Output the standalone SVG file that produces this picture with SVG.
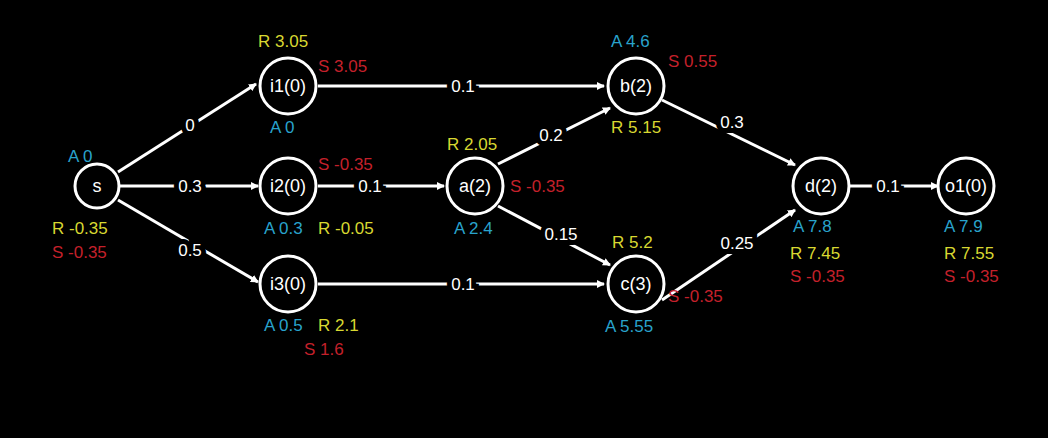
<svg xmlns="http://www.w3.org/2000/svg" width="1048" height="438" viewBox="0 0 1048 438">
<style>
text{font-family:"Liberation Sans",Arial,sans-serif;font-size:17px}
.n{fill:#000;stroke:#fff;stroke-width:3}
.nt{fill:#fff;font-size:18px;text-anchor:middle}
.e{stroke:#fff;stroke-width:3;fill:none;marker-end:url(#ah)}
.el{fill:#fff;text-anchor:middle;stroke:#000;stroke-width:10px;paint-order:stroke}
.A{fill:#29a3cc}.R{fill:#d8d831}.S{fill:#c4202b}
</style>
<defs><marker id="ah" markerWidth="8" markerHeight="8" refX="7" refY="4" orient="auto" markerUnits="userSpaceOnUse"><path d="M0,0L8,4L0,8z" fill="#fff"/></marker></defs>
<rect width="1048" height="438" fill="#000"/>
<g id="connectors">
<path class="e" d="M118,172L256,84"/>
<path class="e" d="M120,186L258,186"/>
<path class="e" d="M118,200L258,282"/>
<path class="e" d="M318,86L604,86"/>
<path class="e" d="M318,186L444,186"/>
<path class="e" d="M498,164L610,108"/>
<path class="e" d="M498,206L610,265"/>
<path class="e" d="M318,284L604,284"/>
<path class="e" d="M662,100L795,165"/>
<path class="e" d="M662,300L795,210"/>
<path class="e" d="M850,186L938,186"/>
<text class="el" x="190" y="131">0</text>
<text class="el" x="190" y="192">0.3</text>
<text class="el" x="190" y="256">0.5</text>
<text class="el" x="463" y="92">0.1</text>
<text class="el" x="370" y="192">0.1</text>
<text class="el" x="551" y="141">0.2</text>
<text class="el" x="561" y="240">0.15</text>
<text class="el" x="463" y="290">0.1</text>
<text class="el" x="732" y="128">0.3</text>
<text class="el" x="737" y="249">0.25</text>
<text class="el" x="888" y="192">0.1</text>
</g>
<g id="s"><circle class="n" cx="97" cy="186" r="22"/><text class="nt" x="97" y="192">s</text>
<text class="A" x="68" y="162">A 0</text><text class="R" x="52" y="234">R -0.35</text><text class="S" x="52" y="258">S -0.35</text></g>
<g id="i1"><circle class="n" cx="288" cy="86" r="28"/><text class="nt" x="288" y="92">i1(0)</text>
<text class="R" x="258" y="47">R 3.05</text><text class="S" x="318" y="72">S 3.05</text><text class="A" x="270" y="133">A 0</text></g>
<g id="i2"><circle class="n" cx="288" cy="186" r="28"/><text class="nt" x="288" y="192">i2(0)</text>
<text class="S" x="318" y="170">S -0.35</text><text class="A" x="264" y="234">A 0.3</text><text class="R" x="318" y="234">R -0.05</text></g>
<g id="i3"><circle class="n" cx="288" cy="284" r="28"/><text class="nt" x="288" y="290">i3(0)</text>
<text class="A" x="264" y="331">A 0.5</text><text class="R" x="318" y="331">R 2.1</text><text class="S" x="304" y="355">S 1.6</text></g>
<g id="a"><circle class="n" cx="475" cy="186" r="28"/><text class="nt" x="475" y="192">a(2)</text>
<text class="R" x="447" y="150">R 2.05</text><text class="S" x="510" y="192">S -0.35</text><text class="A" x="454" y="234">A 2.4</text></g>
<g id="b"><circle class="n" cx="636" cy="86" r="28"/><text class="nt" x="636" y="92">b(2)</text>
<text class="A" x="611" y="47">A 4.6</text><text class="S" x="668" y="67">S 0.55</text><text class="R" x="611" y="133">R 5.15</text></g>
<g id="c"><circle class="n" cx="636" cy="284" r="28"/><text class="nt" x="636" y="290">c(3)</text>
<text class="R" x="612" y="248">R 5.2</text><text class="S" x="668" y="302">S -0.35</text><text class="A" x="605" y="332">A 5.55</text></g>
<g id="d"><circle class="n" cx="821" cy="186" r="28"/><text class="nt" x="821" y="192">d(2)</text>
<text class="A" x="793" y="232">A 7.8</text><text class="R" x="790" y="259">R 7.45</text><text class="S" x="790" y="282">S -0.35</text></g>
<g id="o1"><circle class="n" cx="966" cy="186" r="28"/><text class="nt" x="966" y="192">o1(0)</text>
<text class="A" x="944" y="232">A 7.9</text><text class="R" x="944" y="259">R 7.55</text><text class="S" x="944" y="282">S -0.35</text></g>
</svg>
